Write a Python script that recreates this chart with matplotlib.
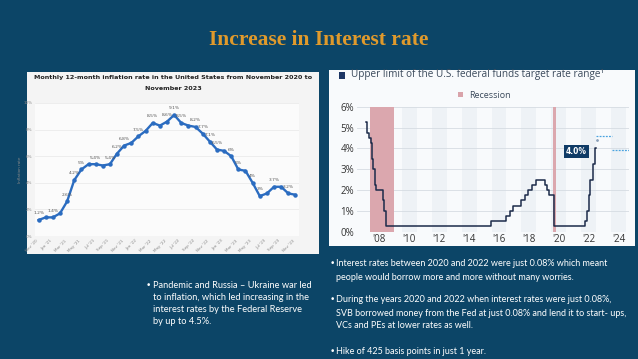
import matplotlib.pyplot as plt
from matplotlib.patches import Rectangle

W, H = 638, 359
BG = "#0c4567"

# inflation chart (Nov 2020 - Nov 2023)
months = ["Nov", "Dec", "Jan", "Feb", "Mar", "Apr", "May", "Jun", "Jul", "Aug", "Sep", "Oct"]
month_labels = [f"{months[i % 12]} '{20 + (i + 10) // 12}" for i in range(37)]
inflation = [1.2, 1.4, 1.4, 1.7, 2.6, 4.2, 5.0, 5.4, 5.4, 5.3, 5.4, 6.2, 6.8,
             7.0, 7.5, 7.9, 8.5, 8.3, 8.6, 9.1, 8.5, 8.3, 8.2, 7.7, 7.1, 6.5,
             6.4, 6.0, 5.0, 4.9, 4.0, 3.0, 3.2, 3.7, 3.7, 3.2, 3.1]
labelled = {0: "1.2%", 2: "1.4%", 4: "2.6%", 5: "4.2%", 6: "5%", 8: "5.4%",
            10: "5.4%", 11: "6.2%", 12: "6.8%", 14: "7.5%", 16: "8.5%",
            18: "8.6%", 19: "9.1%", 20: "8.5%", 22: "8.2%", 23: "7.7%",
            24: "7.1%", 25: "6.5%", 27: "6%", 28: "5%", 30: "4%", 31: "3%",
            33: "3.7%", 35: "3.2%"}

# fed funds upper limit, step changes (decimal year, %)
ff_dates = [2007.65, 2007.71, 2007.83, 2007.95, 2008.06, 2008.08, 2008.21,
            2008.33, 2008.77, 2008.83, 2008.96, 2015.96, 2016.96, 2017.21,
            2017.46, 2017.96, 2018.21, 2018.46, 2018.73, 2018.96, 2019.58,
            2019.71, 2019.83, 2020.17, 2020.20, 2022.25, 2022.37, 2022.50,
            2022.60, 2022.75, 2022.88, 2023.0]
ff_rate = [5.25, 4.75, 4.50, 4.25, 3.50, 3.00, 2.25, 2.00, 1.50, 1.00, 0.25,
           0.50, 0.75, 1.00, 1.25, 1.50, 1.75, 2.00, 2.25, 2.50, 2.25, 2.00,
           1.75, 1.25, 0.25, 0.50, 1.00, 1.75, 2.50, 3.25, 4.00, 4.00]
recessions = [(2007.92, 2009.5), (2020.08, 2020.32)]
proj_years = [(2023.0, 2024.05), (2024.05, 2025.15)]
proj_rate = [4.6, 3.9]
year_ticks = list(range(2008, 2025, 2))

left_text = ["Pandemic and Russia \u2013 Ukraine war led",
             "to inflation, which led increasing in the",
             "interest rates by the Federal Reserve",
             "by up to 4.5%."]
right_text = [["Interest rates between 2020 and 2022 were just 0.08% which meant",
               "people would borrow more and more without many worries."],
              ["During the years 2020 and 2022 when interest rates were just 0.08%,",
               "SVB borrowed money from the Fed at just 0.08% and lend it to start- ups,",
               "VCs and PEs at lower rates as well."],
              ["Hike of 425 basis points in just 1 year."]]


def fx(px):
    return px / W


def fy(py):
    return 1 - py / H


def fig_rect(x0, y0, x1, y1, color, z):
    # rectangle given in pixel coords (top-left origin)
    fig.patches.append(Rectangle((fx(x0), fy(y1)), (x1 - x0) / W, (y1 - y0) / H,
                                 transform=fig.transFigure, fc=color, ec="none",
                                 zorder=z))


fig = plt.figure(figsize=(W / 100, H / 100), dpi=100, facecolor=BG)

fig.text(0.5, fy(40), "Increase in Interest rate", ha="center", va="center",
         family="Liberation Serif", weight="bold", fontsize=15.5, color="#e09a2c")

# panels behind the axes
fig_rect(27, 72, 319, 254, "#f4f4f4", -2)
fig_rect(329, 70, 635, 246, "#f8fafc", -2)

# ---- left chart
ax = fig.add_axes([fx(35), fy(236), fx(264), 133 / H])
ax.set_facecolor("#fbfbfb")
x = list(range(len(inflation)))
ax.plot(x, inflation, color="#2b6cc0", lw=1.7, marker="o", ms=2.2)
for i, lab in labelled.items():
    ax.text(i, inflation[i] + 0.35, lab, ha="center", va="bottom",
            fontsize=3.2, color="#555555")
ax.set_xlim(-0.5, 36.5)
ax.set_ylim(0, 10)
ax.set_yticks(range(0, 11, 2))
ax.set_yticklabels([f"{v}%" for v in range(0, 11, 2)], fontsize=3, color="#888888")
ax.set_xticks(x[::2])
ax.set_xticklabels(month_labels[::2], rotation=45, ha="right", fontsize=3,
                   color="#888888")
ax.tick_params(length=0, pad=2)
ax.grid(axis="y", color="#e8e8e8", lw=0.5)
ax.set_axisbelow(True)
for s in ax.spines.values():
    s.set_visible(False)
ax.axhline(0, color="#bbbbbb", lw=0.6)
ax.set_ylabel("Inflation rate", fontsize=3, color="#888888", labelpad=1)
fig.text(fx(173), fy(78), "Monthly 12-month inflation rate in the United States from November 2020 to",
         ha="center", va="center", fontsize=4.6, weight="bold", color="#222222")
fig.text(fx(173), fy(88), "November 2023", ha="center", va="center",
         fontsize=4.6, weight="bold", color="#222222")

# ---- right chart
ax2 = fig.add_axes([fx(357), fy(231.7), fx(272), 125 / H])
ax2.set_facecolor("none")
for yr in range(2010, 2026, 2):
    ax2.axvspan(yr, yr + 1, color="#eef2f6", lw=0, zorder=0)
for a, b in recessions:
    ax2.axvspan(a, b, color="#dba7ae", lw=0, zorder=1)
ax2.step(ff_dates, ff_rate, where="post", color="#1c2b4a", lw=1.1, zorder=3)
for (a, b), r in zip(proj_years, proj_rate):
    ax2.plot([a, b], [r, r], ls=(0, (1.5, 1)), color="#4aa3df", lw=0.9, zorder=3)
ax2.plot([2023.05], [4.4], "o", ms=1, color="#8aa0b8", zorder=3)
ax2.text(2021.65, 3.85, "4.0%", ha="center", va="center", fontsize=5.5,
         weight="bold", color="white", zorder=4,
         bbox=dict(boxstyle="square,pad=0.25", fc="#0f3b66", ec="none"))
ax2.set_xlim(2007.03, 2025.17)
ax2.set_ylim(0, 6)
ax2.set_yticks(range(0, 7))
ax2.set_yticklabels([f"{v}%" for v in range(0, 7)], fontsize=7, color="#333333",
                    family="Open Sans")
ax2.set_xticks([y + 0.5 for y in year_ticks])
ax2.set_xticklabels([f"'{y % 100:02d}" for y in year_ticks], fontsize=7,
                    color="#333333", family="Open Sans")
ax2.tick_params(length=0, pad=2)
ax2.grid(axis="y", color="#d6dce2", lw=0.6)
ax2.set_axisbelow(True)
for s in ax2.spines.values():
    s.set_visible(False)
ax2.axhline(0, color="#555555", lw=0.7, zorder=2)

fig_rect(339, 72, 345, 79, "#1c3564", 2)
fig.text(fx(351), fy(75), "Upper limit of the U.S. federal funds target rate range\u00b9",
         ha="left", va="center", fontsize=7.2, color="#3b4a5c", family="Open Sans")
fig_rect(458, 92, 463, 97, "#d9a3aa", 2)
fig.text(fx(469), fy(95), "Recession", ha="left", va="center", fontsize=6.5,
         color="#3b4a5c", family="Open Sans")

# ---- bullet text
for i, line in enumerate(left_text):
    y = fy(286 + 12 * i)
    if i == 0:
        fig.text(fx(146), y, "\u2022", ha="left", va="center", color="white", fontsize=6.5)
    fig.text(fx(153), y, line, ha="left", va="center", color="white",
             fontsize=6.7, family="Lato")

starts = [264, 300, 351]
for lines, y0 in zip(right_text, starts):
    for j, line in enumerate(lines):
        y = fy(y0 + 13 * j)
        if j == 0:
            fig.text(fx(330), y, "\u2022", ha="left", va="center", color="white", fontsize=6.5)
        fig.text(fx(336), y, line, ha="left", va="center", color="white",
                 fontsize=6.5, family="Lato")

fig.savefig("out.png", dpi=100, facecolor=BG)
